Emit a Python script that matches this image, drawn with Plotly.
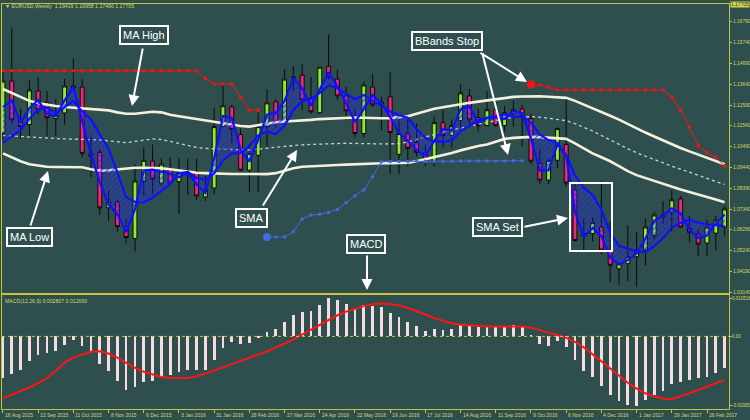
import plotly.graph_objects as go

# ---------------- data ----------------
bar_idx = list(range(83))

opens = [1.1118, 1.1380, 1.1185, 1.1160, 1.1330, 1.1274, 1.1190, 1.1219, 1.1355, 1.1350,
         1.1015, 1.1020, 1.0740, 1.0770, 1.0645, 1.0585, 1.0875, 1.0976, 1.0865, 1.0936,
         1.0872, 1.0922, 1.0915, 1.0795, 1.0840, 1.1150, 1.1250, 1.1110, 1.0930, 1.1005,
         1.1150, 1.1275, 1.1170, 1.1395, 1.1410, 1.1293, 1.1220, 1.1455, 1.1390, 1.1305,
         1.1205, 1.1115, 1.1350, 1.1265, 1.1300, 1.1010, 1.1115, 1.1070, 1.1020, 1.0975,
         1.1170, 1.1105, 1.1180, 1.1305, 1.1195, 1.1155, 1.1235, 1.1155, 1.1215, 1.1240,
         1.1190, 1.0965, 1.0880, 1.0980, 1.1060, 1.0830, 1.0595, 1.0610, 1.0643, 1.0527,
         1.0432, 1.0458, 1.0493, 1.0527, 1.0600, 1.0704, 1.0719, 1.0785, 1.0638, 1.0608,
         1.0562, 1.0612, 1.0643]
highs = [1.1440, 1.1650, 1.1240, 1.1385, 1.1400, 1.1330, 1.1290, 1.1390, 1.1495, 1.1390,
         1.1100, 1.1040, 1.0830, 1.0780, 1.0690, 1.0960, 1.1045, 1.1060, 1.0990, 1.0995,
         1.0990, 1.0990, 1.0990, 1.0900, 1.1245, 1.1375, 1.1260, 1.1140, 1.1060, 1.1220,
         1.1340, 1.1290, 1.1440, 1.1455, 1.1465, 1.1400, 1.1450, 1.1615, 1.1440, 1.1350,
         1.1245, 1.1375, 1.1415, 1.1300, 1.1425, 1.1185, 1.1185, 1.1165, 1.1060, 1.1200,
         1.1235, 1.1185, 1.1365, 1.1340, 1.1240, 1.1330, 1.1285, 1.1255, 1.1280, 1.1260,
         1.1215, 1.1040, 1.0990, 1.1145, 1.1300, 1.0870, 1.0690, 1.0690, 1.0875, 1.0670,
         1.0465, 1.0650, 1.0620, 1.0685, 1.0720, 1.0775, 1.0830, 1.0800, 1.0700, 1.0630,
         1.0680, 1.0700, 1.0750]
lows = [1.1085, 1.1160, 1.1090, 1.1100, 1.1210, 1.1105, 1.1105, 1.1160, 1.1330, 1.0995,
        1.0895, 1.0705, 1.0675, 1.0620, 1.0560, 1.0520, 1.0800, 1.0805, 1.0850, 1.0850,
        1.0710, 1.0805, 1.0780, 1.0775, 1.0810, 1.1150, 1.1065, 1.0925, 1.0820, 1.0820,
        1.1050, 1.1145, 1.1145, 1.1325, 1.1235, 1.1215, 1.1215, 1.1385, 1.1285, 1.1180,
        1.1095, 1.1095, 1.1250, 1.1130, 1.0910, 1.0910, 1.0950, 1.1000, 1.0950, 1.0950,
        1.1045, 1.1045, 1.1145, 1.1160, 1.1125, 1.1155, 1.1150, 1.1125, 1.1150, 1.1050,
        1.0960, 1.0860, 1.0860, 1.0940, 1.0850, 1.0570, 1.0520, 1.0570, 1.0505, 1.0365,
        1.0350, 1.0370, 1.0340, 1.0450, 1.0580, 1.0660, 1.0620, 1.0640, 1.0565, 1.0495,
        1.0495, 1.0525, 1.0600]
closes = [1.1380, 1.1185, 1.1150, 1.1335, 1.1235, 1.1195, 1.1210, 1.1355, 1.1345, 1.1015,
          1.1000, 1.0740, 1.0770, 1.0645, 1.0590, 1.0875, 1.0980, 1.0885, 1.0961, 1.0865,
          1.0922, 1.0915, 1.0800, 1.0830, 1.1150, 1.1255, 1.1135, 1.0930, 1.1015, 1.1150,
          1.1270, 1.1170, 1.1390, 1.1400, 1.1285, 1.1225, 1.1450, 1.1400, 1.1305, 1.1230,
          1.1115, 1.1360, 1.1260, 1.1275, 1.1120, 1.1115, 1.1040, 1.1020, 1.0985, 1.1170,
          1.1105, 1.1155, 1.1320, 1.1185, 1.1155, 1.1235, 1.1155, 1.1220, 1.1235, 1.1200,
          1.0975, 1.0880, 1.0980, 1.1140, 1.0865, 1.0575, 1.0610, 1.0665, 1.0527, 1.0450,
          1.0458, 1.0493, 1.0525, 1.0643, 1.0704, 1.0695, 1.0780, 1.0643, 1.0616, 1.0557,
          1.0643, 1.0678, 1.0734]

ma_high = [1.1340, 1.1320, 1.1300, 1.1280, 1.1268, 1.1260, 1.1254, 1.1249, 1.1246, 1.1243,
           1.1240, 1.1238, 1.1232, 1.1222, 1.1215, 1.1215, 1.1220, 1.1225, 1.1222, 1.1210,
           1.1202, 1.1195, 1.1188, 1.1180, 1.1175, 1.1168, 1.1160, 1.1153, 1.1150, 1.1158,
           1.1166, 1.1172, 1.1176, 1.1178, 1.1180, 1.1184, 1.1188, 1.1190, 1.1193, 1.1195,
           1.1196, 1.1195, 1.1193, 1.1192, 1.1193, 1.1196, 1.1202, 1.1215, 1.1228, 1.1240,
           1.1248, 1.1256, 1.1263, 1.1270, 1.1276, 1.1282, 1.1290, 1.1297, 1.1300, 1.1302,
           1.1304, 1.1303, 1.1301, 1.1299, 1.1295, 1.1280, 1.1262, 1.1244, 1.1225, 1.1205,
           1.1185, 1.1162, 1.1140, 1.1120, 1.1100, 1.1080, 1.1060, 1.1042, 1.1025, 1.1008,
           1.0992, 1.0976, 1.0960]
ma_low = [1.1015, 1.0995, 1.0975, 1.0960, 1.0952, 1.0947, 1.0946, 1.0946, 1.0947, 1.0945,
          1.0935, 1.0928, 1.0930, 1.0935, 1.0940, 1.0942, 1.0942, 1.0942, 1.0940, 1.0935,
          1.0928, 1.0922, 1.0917, 1.0915, 1.0913, 1.0912, 1.0911, 1.0911, 1.0911, 1.0910,
          1.0910, 1.0915, 1.0928, 1.0940, 1.0947, 1.0950, 1.0952, 1.0954, 1.0956, 1.0958,
          1.0960, 1.0962, 1.0965, 1.0965, 1.0965, 1.0965, 1.0968, 1.0975, 1.0985, 1.0995,
          1.1005, 1.1017, 1.1030, 1.1042, 1.1052, 1.1060, 1.1075, 1.1088, 1.1093, 1.1097,
          1.1098, 1.1097, 1.1095, 1.1093, 1.1088, 1.1065, 1.1040, 1.1015, 1.0995, 1.0975,
          1.0950, 1.0925, 1.0905, 1.0890, 1.0875, 1.0860, 1.0845, 1.0832, 1.0820, 1.0808,
          1.0795, 1.0782, 1.0768]
sma_mid = [1.1105, 1.1102, 1.1100, 1.1098, 1.1095, 1.1092, 1.1090, 1.1088, 1.1087, 1.1086,
           1.1085, 1.1083, 1.1078, 1.1072, 1.1069, 1.1075, 1.1083, 1.1088, 1.1085, 1.1075,
           1.1065, 1.1055, 1.1045, 1.1040, 1.1038, 1.1036, 1.1034, 1.1032, 1.1032, 1.1036,
           1.1042, 1.1046, 1.1050, 1.1055, 1.1058, 1.1060, 1.1062, 1.1064, 1.1066, 1.1066,
           1.1065, 1.1064, 1.1063, 1.1062, 1.1062, 1.1065, 1.1072, 1.1085, 1.1098, 1.1110,
           1.1122, 1.1133, 1.1143, 1.1152, 1.1160, 1.1170, 1.1180, 1.1190, 1.1197, 1.1200,
           1.1200, 1.1198, 1.1193, 1.1187, 1.1180, 1.1165, 1.1148, 1.1128, 1.1105, 1.1082,
           1.1060, 1.1038, 1.1018, 1.1000, 1.0985, 1.0968, 1.0950, 1.0935, 1.0920, 1.0905,
           1.0890, 1.0875, 1.0858]

sma_fast = [1.1249, 1.1283, 1.1168, 1.1243, 1.1285, 1.1215, 1.1203, 1.1283, 1.1350, 1.1180,
            1.1008, 1.0870, 1.0755, 1.0708, 1.0618, 1.0733, 1.0928, 1.0933, 1.0923, 1.0913,
            1.0894, 1.0919, 1.0858, 1.0815, 1.0990, 1.1203, 1.1195, 1.1033, 1.0973, 1.1083,
            1.1210, 1.1220, 1.1280, 1.1395, 1.1343, 1.1255, 1.1338, 1.1425, 1.1353, 1.1268,
            1.1173, 1.1238, 1.1310, 1.1268, 1.1198, 1.1118, 1.1078, 1.1030, 1.1003, 1.1078,
            1.1138, 1.1130, 1.1238, 1.1253, 1.1170, 1.1195, 1.1195, 1.1188, 1.1228, 1.1218,
            1.1088, 1.0928, 1.0930, 1.1060, 1.1003, 1.0720, 1.0593, 1.0638, 1.0596, 1.0489,
            1.0454, 1.0476, 1.0509, 1.0584, 1.0674, 1.0700, 1.0738, 1.0712, 1.0630, 1.0587,
            1.0600, 1.0661, 1.0706]
sma_slow = [1.1069, 1.1102, 1.1131, 1.1189, 1.1234, 1.1247, 1.1218, 1.1247, 1.1279, 1.1226,
            1.1187, 1.1111, 1.1038, 1.0919, 1.0793, 1.0770, 1.0767, 1.0791, 1.0823, 1.0859,
            1.0915, 1.0921, 1.0891, 1.0882, 1.0914, 1.0979, 1.1014, 1.1017, 1.1053, 1.1106,
            1.1126, 1.1112, 1.1154, 1.1233, 1.1278, 1.1290, 1.1320, 1.1358, 1.1344, 1.1316,
            1.1288, 1.1310, 1.1278, 1.1258, 1.1227, 1.1208, 1.1195, 1.1138, 1.1093, 1.1075,
            1.1073, 1.1079, 1.1126, 1.1153, 1.1182, 1.1193, 1.1201, 1.1212, 1.1198, 1.1200,
            1.1170, 1.1111, 1.1082, 1.1068, 1.1007, 1.0903, 1.0842, 1.0806, 1.0730, 1.0615,
            1.0548, 1.0534, 1.0520, 1.0516, 1.0546, 1.0586, 1.0640, 1.0665, 1.0680, 1.0666,
            1.0656, 1.0653, 1.0645]

N = None
bb_stop_up = [1.1432] * 23 + [1.1392, 1.1365, 1.1365, 1.1365, 1.1300, 1.1232, 1.1232] + [N] * 30 + \
             [1.1363, 1.1360, 1.1350, 1.1335, 1.1335, 1.1335, 1.1335, 1.1335, 1.1335, 1.1335,
              1.1335, 1.1335, 1.1335, 1.1335, 1.1335, 1.1335, 1.1298, 1.1234, 1.1146, 1.1054,
              1.1018, 1.0995, 1.0951]
bb_stop_dn = [N] * 30 + [1.0593, 1.0593, 1.0593, 1.0619, 1.0684, 1.0704, 1.0707, 1.0716, 1.0732, 1.0766,
                         1.0801, 1.0830, 1.0897, 1.0973, 1.0974, 1.0974, 1.0974, 1.0975, 1.0975, 1.0975,
                         1.0975, 1.0975, 1.0976, 1.0976, 1.0976, 1.0977, 1.0977, 1.0977, 1.0978, 1.0978] + [N] * 23

macd_hist = [-0.0114, -0.0102, -0.0091, -0.0068, -0.0050, -0.0045, -0.0041, -0.0023, -0.0009, -0.0027,
             -0.0041, -0.0075, -0.0096, -0.0121, -0.0146, -0.0139, -0.0126, -0.0121, -0.0111, -0.0105,
             -0.0098, -0.0091, -0.0091, -0.0091, -0.0064, -0.0031, -0.0016, -0.0022, -0.0018, -0.0005,
             0.0012, 0.0020, 0.0040, 0.0058, 0.0066, 0.0070, 0.0085, 0.0105, 0.0100, 0.0090,
             0.0078, 0.0085, 0.0082, 0.0080, 0.0065, 0.0052, 0.0040, 0.0028, 0.0015, 0.0020,
             0.0018, 0.0020, 0.0032, 0.0030, 0.0025, 0.0028, 0.0025, 0.0028, 0.0030, 0.0028,
             0.0005, -0.0020, -0.0025, -0.0012, -0.0030, -0.0065, -0.0095, -0.0110, -0.0135, -0.0160,
             -0.0178, -0.0188, -0.0190, -0.0175, -0.0160, -0.0150, -0.0130, -0.0125, -0.0120, -0.0115,
             -0.0110, -0.0100, -0.0086]
macd_signal = [-0.0169, -0.0160, -0.0150, -0.0140, -0.0128, -0.0114, -0.0095, -0.0072, -0.0058, -0.0049,
               -0.0042, -0.0041, -0.0047, -0.0058, -0.0072, -0.0086, -0.0097, -0.0105, -0.0111, -0.0114,
               -0.0115, -0.0114, -0.0110, -0.0102, -0.0095, -0.0085, -0.0076, -0.0068, -0.0059, -0.0050,
               -0.0041, -0.0031, -0.0020, -0.0008, 0.0005, 0.0018, 0.0030, 0.0045, 0.0058, 0.0068,
               0.0076, 0.0083, 0.0088, 0.0090, 0.0089, 0.0085, 0.0078, 0.0070, 0.0060, 0.0050,
               0.0042, 0.0036, 0.0032, 0.0030, 0.0028, 0.0027, 0.0027, 0.0027, 0.0027, 0.0027,
               0.0024, 0.0018, 0.0010, 0.0004, -0.0004, -0.0015, -0.0030, -0.0048, -0.0068, -0.0088,
               -0.0108, -0.0127, -0.0143, -0.0156, -0.0165, -0.0170, -0.0172, -0.0165, -0.0156, -0.0147,
               -0.0138, -0.0128, -0.0119]

date_idx = [0, 4, 8, 12, 16, 20, 24, 28, 32, 36, 40, 44, 48, 52, 56, 60, 64, 68, 72, 76, 80]
date_labels = ["16 Aug 2015", "13 Sep 2015", "11 Oct 2015", "8 Nov 2015", "6 Dec 2015",
               "3 Jan 2016", "31 Jan 2016", "28 Feb 2016", "27 Mar 2016", "24 Apr 2016",
               "22 May 2016", "19 Jun 2016", "17 Jul 2016", "14 Aug 2016", "11 Sep 2016",
               "9 Oct 2016", "6 Nov 2016", "4 Dec 2016", "1 Jan 2017", "29 Jan 2017", "26 Feb 2017"]
price_ticks = [1.16790, 1.15740, 1.14690, 1.13640, 1.12590, 1.11540, 1.10490,
               1.09440, 1.08390, 1.07340, 1.06290, 1.05240, 1.04190, 1.03140]
price_labels = ["1.16790", "1.15740", "1.14690", "1.13640", "1.12590", "1.11540", "1.10490",
                "1.09440", "1.08390", "1.07340", "1.06290", "1.05240", "1.04190", "1.03140"]
macd_ticks = [0.010518, 0.0, -0.01905]
macd_labels = ["0.010518", "0.00", "-0.01905"]

# ---------------- style ----------------
BG = "#2F4F4F"
AX = "#C4C43C"
TXT = "#D8D860"
GREEN = "#8EEB2C"
PINK = "#EE2680"
WHITE_MA = "#F3F0DC"
FONT = "Liberation Sans, Arial, sans-serif"

W, H = 750, 420
ML, MR, MT, MB = 2, 21, 4, 11
PW, PH = W - ML - MR, H - MT - MB


def px(xp):
    return (xp - ML) / PW


def py(yp):
    return (H - MB - yp) / PH


fig = go.Figure()

fig.add_trace(go.Candlestick(
    x=bar_idx, open=opens, high=highs, low=lows, close=closes,
    increasing=dict(fillcolor=GREEN, line=dict(color="#0A0A0A", width=1)),
    decreasing=dict(fillcolor=PINK, line=dict(color="#0A0A0A", width=1)),
    whiskerwidth=0, xaxis="x", yaxis="y", hoverinfo="skip", showlegend=False))

# white MA high / low and dotted SMA
fig.add_trace(go.Scatter(x=bar_idx, y=ma_high, mode="lines", line=dict(color=WHITE_MA, width=2.6),
                         xaxis="x", yaxis="y", showlegend=False, hoverinfo="skip"))
fig.add_trace(go.Scatter(x=bar_idx, y=ma_low, mode="lines", line=dict(color=WHITE_MA, width=2.6),
                         xaxis="x", yaxis="y", showlegend=False, hoverinfo="skip"))
fig.add_trace(go.Scatter(x=bar_idx, y=sma_mid, mode="lines", line=dict(color="#C8D0CC", width=1.3, dash="dot"),
                         xaxis="x", yaxis="y", showlegend=False, hoverinfo="skip"))

# SMA set ribbon
fig.add_trace(go.Scatter(x=bar_idx, y=sma_slow, mode="lines", line=dict(color="#1010FF", width=2.2),
                         xaxis="x", yaxis="y", showlegend=False, hoverinfo="skip"))
fig.add_trace(go.Scatter(x=bar_idx, y=sma_fast, mode="lines", line=dict(color="#1010FF", width=2.2),
                         fill="tonexty", fillcolor="rgba(30,30,255,0.10)",
                         fillpattern=dict(shape="/", fgcolor="#2020FF", fgopacity=0.9, size=4, solidity=0.25),
                         xaxis="x", yaxis="y", showlegend=False, hoverinfo="skip"))

# BBands stop dots
fig.add_trace(go.Scatter(x=bar_idx, y=bb_stop_up, mode="lines+markers",
                         line=dict(color="#FF1010", width=1), marker=dict(color="#FF1010", size=3.5),
                         connectgaps=False, xaxis="x", yaxis="y", showlegend=False, hoverinfo="skip"))
fig.add_trace(go.Scatter(x=bar_idx, y=bb_stop_dn, mode="lines+markers",
                         line=dict(color="#4169E1", width=1), marker=dict(color="#4169E1", size=3.5),
                         connectgaps=False, xaxis="x", yaxis="y", showlegend=False, hoverinfo="skip"))
fig.add_trace(go.Scatter(x=[bar_idx[60]], y=[bb_stop_up[60]], mode="markers",
                         marker=dict(color="#FF1010", size=8), xaxis="x", yaxis="y",
                         showlegend=False, hoverinfo="skip"))
fig.add_trace(go.Scatter(x=[bar_idx[30]], y=[bb_stop_dn[30]], mode="markers",
                         marker=dict(color="#4169E1", size=8), xaxis="x", yaxis="y",
                         showlegend=False, hoverinfo="skip"))

# MACD
fig.add_trace(go.Bar(x=bar_idx, y=macd_hist, width=0.3, marker=dict(color="#F6DCE0", line=dict(width=0)),
                     xaxis="x2", yaxis="y2", showlegend=False, hoverinfo="skip"))
fig.add_trace(go.Scatter(x=bar_idx, y=macd_signal, mode="lines", line=dict(color="#FF1515", width=2),
                         xaxis="x2", yaxis="y2", showlegend=False, hoverinfo="skip"))

XR = [-0.11, 82.5]
common_x = dict(range=XR, showgrid=False, zeroline=False, showline=True, mirror=True,
                linecolor=AX, linewidth=1, fixedrange=True, showticklabels=False)
common_y = dict(showgrid=False, zeroline=False, showline=True, mirror=True, linecolor=AX,
                linewidth=1, side="right", ticks="outside", ticklen=2, tickcolor=AX,
                showticklabels=False, fixedrange=True)

fig.update_layout(
    width=W, height=H,
    margin=dict(l=ML, r=MR, t=MT, b=MB, autoexpand=False),
    paper_bgcolor=BG, plot_bgcolor=BG,
    boxgap=0.36, bargap=0,
    showlegend=False,
    font=dict(family=FONT, color=TXT),
    xaxis=dict(domain=[0, 1], anchor="y", rangeslider=dict(visible=False), **common_x),
    yaxis=dict(domain=[py(293), 1], anchor="x", range=[1.0310, 1.1769], tickvals=price_ticks, **common_y),
    xaxis2=dict(domain=[0, 1], anchor="y2", tickvals=date_idx, ticks="outside", ticklen=3,
                tickcolor=AX, **common_x),
    yaxis2=dict(domain=[0, py(295)], anchor="x2", range=[-0.0199, 0.01135], tickvals=macd_ticks, **common_y),
)

shapes = [
    dict(type="line", xref="paper", yref="y2", x0=0, x1=1, y0=0, y1=0,
         line=dict(color=AX, width=1, dash="dot")),
    dict(type="rect", xref="paper", yref="paper", x0=px(570), x1=px(612), y0=py(251), y1=py(183),
         line=dict(color="white", width=2)),
]
fig.update_layout(shapes=shapes)

ann = []
small = dict(family=FONT, size=4.9, color=TXT)
# axis labels as text
for v, t in zip(price_ticks, price_labels):
    ann.append(dict(text=t, x=1, y=v, xref="paper", yref="y", xanchor="left", yanchor="middle",
                    xshift=2, showarrow=False, font=small))
for v, t in zip(macd_ticks, macd_labels):
    ann.append(dict(text=t, x=1, y=v, xref="paper", yref="y2", xanchor="left", yanchor="middle",
                    xshift=1, showarrow=False, font=dict(family=FONT, size=4.5, color=TXT)))
for v, t in zip(date_idx, date_labels):
    ann.append(dict(text=t, x=v, y=py(415), xref="x2", yref="paper", xanchor="left", yanchor="middle",
                    xshift=0, showarrow=False, font=dict(family=FONT, size=5, color=TXT)))

# header texts
ann.append(dict(text="▼ EURUSD,Weekly  1.19419 1.19958 1.17490 1.17705", x=px(3), y=py(6),
                xref="paper", yref="paper", xanchor="left", yanchor="middle", showarrow=False,
                font=dict(family=FONT, size=5.2, color=TXT)))
ann.append(dict(text="MACD(12,26,9) 0.002807 0.012693", x=px(3), y=py(301),
                xref="paper", yref="paper", xanchor="left", yanchor="middle", showarrow=False,
                font=dict(family=FONT, size=5.2, color=TXT)))
ann.append(dict(text="1.17705", x=1, y=py(5), xref="paper", yref="paper", xanchor="left",
                yanchor="middle", showarrow=False, bgcolor="#D6D64E", borderpad=0, xshift=1,
                font=dict(family=FONT, size=4.9, color="#1E2E2E")))

# labelled boxes
boxes = [("MA High", 143.5, 35), ("MA Low", 29.5, 237), ("SMA", 251.5, 217.5),
         ("BBands Stop", 446.7, 41), ("SMA Set", 497, 227.5), ("MACD", 366.5, 244)]
for t, bx, by in boxes:
    ann.append(dict(text=t, x=px(bx), y=py(by), xref="paper", yref="paper", showarrow=False,
                    xanchor="center", yanchor="middle", bgcolor=BG, bordercolor="white",
                    borderwidth=2, borderpad=2, font=dict(family=FONT, size=11, color="white")))

# arrows (tail -> tip) in pixels
arrows = [((143, 47), (132, 106)), ((30, 227), (48, 171)), ((262, 207), (297, 150)),
          ((479, 52), (527, 82)), ((482, 52), (508, 155)), ((523, 227), (568, 218)),
          ((367, 254), (367, 290))]
for (tx, ty), (hx, hy) in arrows:
    ann.append(dict(text="", x=px(hx), y=py(hy), xref="paper", yref="paper", showarrow=True,
                    ax=tx - hx, ay=ty - hy, axref="pixel", ayref="pixel",
                    arrowhead=2, arrowsize=1.1, arrowwidth=2, arrowcolor="white", standoff=0))
fig.update_layout(annotations=ann)

fig.write_html("out.html", config={"displayModeBar": False, "staticPlot": True},
               post_script="document.body.style.margin='0';document.body.style.overflow='hidden';")
